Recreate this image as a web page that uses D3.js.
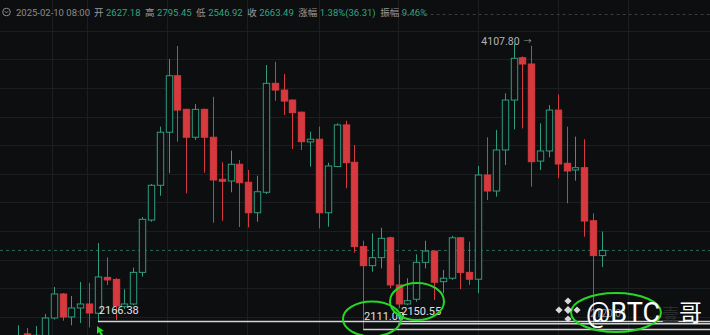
<!DOCTYPE html>
<html>
<head>
<meta charset="utf-8">
<script src="https://cdn.jsdelivr.net/npm/d3@7/dist/d3.min.js"></script>
<style>
    body { margin: 0; background: #0d0e10; }
    svg { display: block; }
    text { font-family: Roboto, "Noto Sans CJK SC", sans-serif; }
</style>
</head>
<body>
<div id="chart"></div>
<script>

// weekly candles, last one is 2025-02-10
let lastDate = new Date(Date.UTC(2025, 1, 10, 8))

let opens  = [1960, 2080, 2030, 2060, 2191, 2359, 2198, 2261, 2289, 2224, 2475, 2461, 2270, 2289, 2510, 2876, 3119,
              3490, 3885, 3650, 3455, 3650, 3455, 3161, 3149, 3266, 3140, 2927, 3070, 3832, 3785, 3715, 3630, 3422,
              3441, 2927, 3250, 3541, 3280, 2690, 2557, 2613, 2752, 2422, 2289, 2322, 2580, 2659, 2445, 2469, 2752,
              2510, 2462, 3191, 3079, 3366, 3715, 4011, 3967, 3288, 3359, 3645, 3273, 3226, 3242, 2871, 2627.18]
let highs  = [2140, 2121, 2135, 2219, 2408, 2365, 2345, 2443, 2436, 2715, 2615, 2470, 2392, 2543, 2897, 3128, 3529,
              4002, 4093, 3655, 3687, 3655, 3738, 3280, 3361, 3296, 3226, 3186, 3960, 3983, 3897, 3720, 3635, 3494,
              3529, 3277, 3552, 3571, 3401, 2731, 2783, 2822, 2760, 2566, 2469, 2636, 2731, 2662, 2527, 2766, 2756,
              2725, 3254, 3455, 3506, 3762, 4107.80, 4020, 4095, 3552, 3680, 3755, 3529, 3459, 3441, 2923, 2795.45]
let lows   = [1900, 1990, 2000, 2040, 2180, 2172, 2140, 2156, 2125, 2166.38, 2422, 2177, 2254, 2280, 2480, 2864, 3046,
              3203, 3424, 3063, 3436, 3207, 2857, 2871, 3070, 2827, 2825, 2864, 3058, 3710, 3610, 3373, 3366, 3249,
              2818, 2829, 3245, 3098, 2648, 2111.00, 2515, 2538, 2399, 2259, 2282, 2305, 2538, 2317, 2364, 2457, 2392,
              2422, 2364, 3016, 3039, 3261, 3510, 3517, 3109, 3226, 3315, 3168, 2993, 3151, 2759, 2120.01, 2546.92]
let closes = [2030, 2020, 2070, 2191, 2359, 2198, 2261, 2289, 2226, 2478, 2457, 2275, 2289, 2510, 2881, 3119, 3490,
              3885, 3645, 3455, 3650, 3455, 3156, 3147, 3266, 3137, 2927, 3074, 3832, 3785, 3708, 3627, 3424, 3441,
              2927, 3254, 3541, 3277, 2690, 2557, 2613, 2748, 2422, 2289, 2312, 2580, 2659, 2441, 2469, 2752, 2510,
              2462, 3191, 3079, 3366, 3715, 4007, 3967, 3284, 3359, 3645, 3268, 3219, 3242, 2869, 2627.18, 2663.49]

// header values of the last candle
let headerItems = [["开", "2627.18"], ["高", "2795.45"], ["低", "2546.92"], ["收", "2663.49"],
                   ["涨幅", "1.38%(36.31)"], ["振幅", "9.46%"]]

// marked prices
let markHigh = 4107.80
let marks = [{price: 2166.38, from: 9, lx: 9.1, ly: -8},
             {price: 2111.00, from: 39, lx: 39.1, ly: -9},
             {price: 2150.55, from: 43, lx: 43.3, ly: -9}]
let markLast = 2120.01

// vertical grid, in candle units
let gridIdx = [3.84, 7.82, 16.85, 25.89, 34.03, 42.96, 51.97, 61.02, 68.93]

let data = opens.map((o, i) => ({
    date: d3.utcMonday.offset(lastDate, i - opens.length + 1),
    open: o, high: highs[i], low: lows[i], close: closes[i]
}))

let width = 710, height = 335
let up = "#2e9c7d", down = "#d63a3f"

let svg = d3.select("#chart").append("svg")
    .attr("width", width)
    .attr("height", height)

svg.append("rect").attr("width", width).attr("height", height).attr("fill", "#0d0e10")

let x = d3.scaleLinear()
    .domain([0, data.length - 1])
    .range([18.3, 602])

let y = d3.scaleLinear()
    .domain([2000, 4200])
    .range([345.3, 30.7])

// Grid
let grid = svg.append("g").attr("id", "grid")
grid.selectAll(".hg")
    .data(y.ticks(11))
    .enter()
    .append("line")
    .attr("x1", 0).attr("x2", width)
    .attr("y1", d => Math.round(y(d)) + 0.5)
    .attr("y2", d => Math.round(y(d)) + 0.5)
    .attr("stroke", "#1c1f22")

grid.selectAll(".vg")
    .data(gridIdx)
    .enter()
    .append("line")
    .attr("x1", d => Math.round(x(d)) + 0.5)
    .attr("x2", d => Math.round(x(d)) + 0.5)
    .attr("y1", 0).attr("y2", height)
    .attr("stroke", "#1c1f22")

// Current price line
svg.append("line")
    .attr("x1", 0).attr("x2", width)
    .attr("y1", y(closes[closes.length - 1]))
    .attr("y2", y(closes[closes.length - 1]))
    .attr("stroke", "#2b6a5a")
    .attr("stroke-dasharray", "3,3")

// Candles
let bodyW = 6.4
let candles = svg.append("g").attr("id", "candles")
    .selectAll("g")
    .data(data)
    .enter()
    .append("g")

candles.append("line")
    .attr("x1", (d, i) => Math.round(x(i)) + 0.5)
    .attr("x2", (d, i) => Math.round(x(i)) + 0.5)
    .attr("y1", d => y(d.high))
    .attr("y2", d => y(d.low))
    .attr("stroke", d => d.close >= d.open ? up : down)

candles.append("rect")
    .attr("x", (d, i) => Math.round(x(i)) + 0.5 - bodyW / 2)
    .attr("width", bodyW)
    .attr("y", d => y(Math.max(d.open, d.close)))
    .attr("height", d => Math.max(1.5, Math.abs(y(d.open) - y(d.close))))
    .attr("fill", d => d.close >= d.open ? "#0d0e10" : down)
    .attr("stroke", d => d.close >= d.open ? up : down)
    .attr("stroke-width", 1)

// Marked low lines
let markG = svg.append("g").attr("id", "marks")
markG.selectAll("line")
    .data(marks)
    .enter()
    .append("line")
    .attr("x1", d => x(d.from))
    .attr("x2", width)
    .attr("y1", d => y(d.price))
    .attr("y2", d => y(d.price))
    .attr("stroke", "#d4d4d4")
    .attr("stroke-width", 1.5)

markG.selectAll("text")
    .data(marks)
    .enter()
    .append("text")
    .attr("x", d => x(d.lx))
    .attr("y", d => y(d.price) + d.ly)
    .attr("fill", "#e2e2e2")
    .style("font-size", "11px")
    .text(d => d.price.toFixed(2))

// Highest price label
let hiIdx = highs.indexOf(markHigh)
svg.append("text")
    .attr("x", x(hiIdx) + 6)
    .attr("y", y(markHigh) + 1.5)
    .attr("text-anchor", "end")
    .attr("fill", "#b4b4b4")
    .style("font-size", "10.5px")
    .text(markHigh.toFixed(2))
svg.append("text")
    .attr("x", x(hiIdx) + 10)
    .attr("y", y(markHigh) + 0.5)
    .attr("fill", "#999")
    .style("font-size", "8px")
    .text("→")

// Last low label, sits behind the watermark as in the screenshot
svg.append("text")
    .attr("x", x(data.length - 2) - 3)
    .attr("y", y(markLast) - 11)
    .attr("fill", "#8a8a8a")
    .style("font-size", "10px")
    .text(markLast.toFixed(2))

// Header
let header = svg.append("g").attr("id", "header")
header.append("circle")
    .attr("cx", 6.5).attr("cy", 12).attr("r", 3.8)
    .attr("fill", "none").attr("stroke", "#8a8a8a")
header.append("path")
    .attr("d", "M4.8,11.2 L6.5,12.9 L8.2,11.2")
    .attr("fill", "none").attr("stroke", "#8a8a8a")

let headText = header.append("text")
    .attr("x", 16)
    .attr("y", 15.5)
    .style("font-size", "9.5px")
headText.append("tspan")
    .attr("fill", "#8c8c8c")
    .text(d3.utcFormat("%Y-%m-%d %H:%M")(lastDate))
headerItems.forEach(function(d, i) {
    headText.append("tspan").attr("dx", i == 0 ? 4 : 4.5).attr("fill", "#9a9a9a").text(d[0])
    headText.append("tspan").attr("dx", 2.5).attr("fill", "#2fa683").text(d[1])
})
let headEnd = headText.node().getComputedTextLength() + 16
header.append("line")
    .attr("x1", headEnd + 3).attr("x2", width)
    .attr("y1", 14.5).attr("y2", 14.5)
    .attr("stroke", "#3a3c3f")
    .attr("stroke-dasharray", "3,3")

// Green ellipses (hand marks)
let ellipses = [[372, 319, 29, 17.5], [417, 301.5, 27, 18.5], [616, 312.5, 45, 19.5]]
svg.append("g").selectAll("ellipse")
    .data(ellipses)
    .enter()
    .append("ellipse")
    .attr("cx", d => d[0]).attr("cy", d => d[1])
    .attr("rx", d => d[2]).attr("ry", d => d[3])
    .attr("fill", "none")
    .attr("stroke", "#27d627")
    .attr("stroke-width", 2)

// Cursor
svg.append("path")
    .attr("d", "M97,326 L97,334 L99,332 L101,335.5 L103,334.5 L101,331.5 L104,331 Z")
    .attr("fill", "#22e022")

// Watermark
let wm = svg.append("g").attr("id", "watermark")
let logo = wm.append("g").attr("transform", "translate(568,310)")
let dia = s => `M0,${-s} L${s},0 L0,${s} L${-s},0 Z`
logo.append("path").attr("d", dia(4)).attr("fill", "#d8d8d8")
;[[0, -9], [-9, 0], [9, 0], [0, 9]].forEach(function(p) {
    logo.append("path").attr("d", dia(3.6))
        .attr("transform", `translate(${p[0]},${p[1]})`)
        .attr("fill", "#d8d8d8")
})
wm.append("text")
    .attr("x", 586).attr("y", 322)
    .attr("fill", "#ffffff")
    .style("font-size", "27px")
    .text("@BTC")
wm.append("text")
    .attr("x", 662).attr("y", 321)
    .attr("fill", "#2a2b2d")
    .style("font-size", "17px")
    .text("壹")
wm.append("text")
    .attr("x", 679).attr("y", 321)
    .attr("fill", "#ffffff")
    .style("font-size", "23px")
    .text("哥")

</script>
</body>
</html>
